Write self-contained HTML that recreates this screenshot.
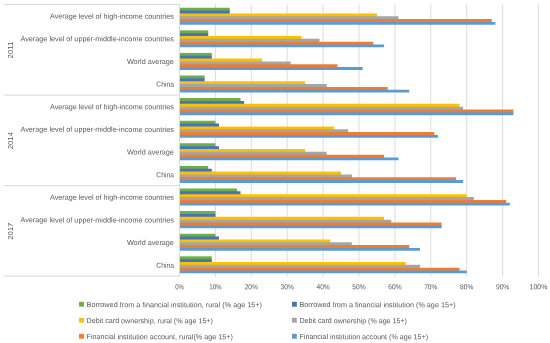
<!DOCTYPE html>
<html lang="en">
<head>
<meta charset="utf-8">
<title>Financial inclusion indicators</title>
<style>
html,body{margin:0;padding:0;background:#fff;}
body{width:550px;height:343px;overflow:hidden;}
svg{display:block;}
text{font-family:"Liberation Sans",sans-serif;font-size:7.35px;fill:#595959;}
</style>
</head>
<body>
<svg width="550" height="343" viewBox="0 0 550 343">
<rect width="550" height="343" fill="#ffffff"/>
<g stroke="#D9D9D9" stroke-width="0.9" fill="none">
<line x1="215.40" y1="4" x2="215.40" y2="276.8"/>
<line x1="251.30" y1="4" x2="251.30" y2="276.8"/>
<line x1="287.20" y1="4" x2="287.20" y2="276.8"/>
<line x1="323.10" y1="4" x2="323.10" y2="276.8"/>
<line x1="359.00" y1="4" x2="359.00" y2="276.8"/>
<line x1="394.90" y1="4" x2="394.90" y2="276.8"/>
<line x1="430.80" y1="4" x2="430.80" y2="276.8"/>
<line x1="466.70" y1="4" x2="466.70" y2="276.8"/>
<line x1="502.60" y1="4" x2="502.60" y2="276.8"/>
<line x1="538.50" y1="4" x2="538.50" y2="276.8"/>
</g>
<g>
<path d="M180.00 7.72H229.76V11.56H180.00Z" fill="#70AD47"/>
<path d="M180.00 10.56H229.76V14.40H180.00Z" fill="#4472C4"/>
<path d="M180.00 13.40H376.95V17.24H180.00Z" fill="#FFC000"/>
<path d="M180.00 16.24H398.49V20.08H180.00Z" fill="#A5A5A5"/>
<path d="M180.00 19.08H491.83V22.92H180.00Z" fill="#ED7D31"/>
<path d="M180.00 21.92H495.42V24.76H180.00Z" fill="#5B9BD5"/>
</g>
<g>
<path d="M180.00 30.32H208.22V34.16H180.00Z" fill="#70AD47"/>
<path d="M180.00 33.16H208.22V37.00H180.00Z" fill="#4472C4"/>
<path d="M180.00 36.00H301.56V39.84H180.00Z" fill="#FFC000"/>
<path d="M180.00 38.84H319.51V42.68H180.00Z" fill="#A5A5A5"/>
<path d="M180.00 41.68H373.36V45.52H180.00Z" fill="#ED7D31"/>
<path d="M180.00 44.52H384.13V47.36H180.00Z" fill="#5B9BD5"/>
</g>
<g>
<path d="M180.00 52.92H211.81V56.76H180.00Z" fill="#70AD47"/>
<path d="M180.00 55.76H211.81V59.60H180.00Z" fill="#4472C4"/>
<path d="M180.00 58.60H262.07V62.44H180.00Z" fill="#FFC000"/>
<path d="M180.00 61.44H290.79V65.28H180.00Z" fill="#A5A5A5"/>
<path d="M180.00 64.28H337.46V68.12H180.00Z" fill="#ED7D31"/>
<path d="M180.00 67.12H362.59V69.96H180.00Z" fill="#5B9BD5"/>
</g>
<g>
<path d="M180.00 75.52H204.63V79.36H180.00Z" fill="#70AD47"/>
<path d="M180.00 78.36H204.63V82.20H180.00Z" fill="#4472C4"/>
<path d="M180.00 81.20H305.15V85.04H180.00Z" fill="#FFC000"/>
<path d="M180.00 84.04H326.69V87.88H180.00Z" fill="#A5A5A5"/>
<path d="M180.00 86.88H387.72V90.72H180.00Z" fill="#ED7D31"/>
<path d="M180.00 89.72H409.26V92.56H180.00Z" fill="#5B9BD5"/>
</g>
<g>
<path d="M180.00 98.12H240.53V101.96H180.00Z" fill="#70AD47"/>
<path d="M180.00 100.96H244.12V104.80H180.00Z" fill="#4472C4"/>
<path d="M180.00 103.80H459.52V107.64H180.00Z" fill="#FFC000"/>
<path d="M180.00 106.64H463.11V110.48H180.00Z" fill="#A5A5A5"/>
<path d="M180.00 109.48H513.37V113.32H180.00Z" fill="#ED7D31"/>
<path d="M180.00 112.32H513.37V115.16H180.00Z" fill="#5B9BD5"/>
</g>
<g>
<path d="M180.00 120.72H215.40V124.56H180.00Z" fill="#70AD47"/>
<path d="M180.00 123.56H218.99V127.40H180.00Z" fill="#4472C4"/>
<path d="M180.00 126.40H333.87V130.24H180.00Z" fill="#FFC000"/>
<path d="M180.00 129.24H348.23V133.08H180.00Z" fill="#A5A5A5"/>
<path d="M180.00 132.08H434.39V135.92H180.00Z" fill="#ED7D31"/>
<path d="M180.00 134.92H437.98V137.76H180.00Z" fill="#5B9BD5"/>
</g>
<g>
<path d="M180.00 143.32H215.40V147.16H180.00Z" fill="#70AD47"/>
<path d="M180.00 146.16H218.99V150.00H180.00Z" fill="#4472C4"/>
<path d="M180.00 149.00H305.15V152.84H180.00Z" fill="#FFC000"/>
<path d="M180.00 151.84H326.69V155.68H180.00Z" fill="#A5A5A5"/>
<path d="M180.00 154.68H384.13V158.52H180.00Z" fill="#ED7D31"/>
<path d="M180.00 157.52H398.49V160.36H180.00Z" fill="#5B9BD5"/>
</g>
<g>
<path d="M180.00 165.92H208.22V169.76H180.00Z" fill="#70AD47"/>
<path d="M180.00 168.76H211.81V172.60H180.00Z" fill="#4472C4"/>
<path d="M180.00 171.60H341.05V175.44H180.00Z" fill="#FFC000"/>
<path d="M180.00 174.44H351.82V178.28H180.00Z" fill="#A5A5A5"/>
<path d="M180.00 177.28H455.93V181.12H180.00Z" fill="#ED7D31"/>
<path d="M180.00 180.12H463.11V182.96H180.00Z" fill="#5B9BD5"/>
</g>
<g>
<path d="M180.00 188.52H236.94V192.36H180.00Z" fill="#70AD47"/>
<path d="M180.00 191.36H240.53V195.20H180.00Z" fill="#4472C4"/>
<path d="M180.00 194.20H466.70V198.04H180.00Z" fill="#FFC000"/>
<path d="M180.00 197.04H473.88V200.88H180.00Z" fill="#A5A5A5"/>
<path d="M180.00 199.88H506.19V203.72H180.00Z" fill="#ED7D31"/>
<path d="M180.00 202.72H509.78V205.56H180.00Z" fill="#5B9BD5"/>
</g>
<g>
<path d="M180.00 211.12H215.40V214.96H180.00Z" fill="#70AD47"/>
<path d="M180.00 213.96H215.40V217.80H180.00Z" fill="#4472C4"/>
<path d="M180.00 216.80H384.13V220.64H180.00Z" fill="#FFC000"/>
<path d="M180.00 219.64H391.31V223.48H180.00Z" fill="#A5A5A5"/>
<path d="M180.00 222.48H441.57V226.32H180.00Z" fill="#ED7D31"/>
<path d="M180.00 225.32H441.57V228.16H180.00Z" fill="#5B9BD5"/>
</g>
<g>
<path d="M180.00 233.72H215.40V237.56H180.00Z" fill="#70AD47"/>
<path d="M180.00 236.56H218.99V240.40H180.00Z" fill="#4472C4"/>
<path d="M180.00 239.40H330.28V243.24H180.00Z" fill="#FFC000"/>
<path d="M180.00 242.24H351.82V246.08H180.00Z" fill="#A5A5A5"/>
<path d="M180.00 245.08H409.26V248.92H180.00Z" fill="#ED7D31"/>
<path d="M180.00 247.92H420.03V250.76H180.00Z" fill="#5B9BD5"/>
</g>
<g>
<path d="M180.00 256.32H211.81V260.16H180.00Z" fill="#70AD47"/>
<path d="M180.00 259.16H211.81V263.00H180.00Z" fill="#4472C4"/>
<path d="M180.00 262.00H405.67V265.84H180.00Z" fill="#FFC000"/>
<path d="M180.00 264.84H420.03V268.68H180.00Z" fill="#A5A5A5"/>
<path d="M180.00 267.68H459.52V271.52H180.00Z" fill="#ED7D31"/>
<path d="M180.00 270.52H466.70V273.36H180.00Z" fill="#5B9BD5"/>
</g>
<g stroke="#D9D9D9" stroke-width="1" fill="none">
<line x1="179.50" y1="4" x2="179.50" y2="276.8"/>
<line x1="3.3" y1="4.40" x2="180.00" y2="4.40"/>
<line x1="3.3" y1="95.15" x2="180.00" y2="95.15"/>
<line x1="3.3" y1="185.65" x2="180.00" y2="185.65"/>
<line x1="3.3" y1="276.10" x2="180.00" y2="276.10"/>
</g>
<g text-anchor="end">
<text transform="translate(173.9 18.72) rotate(0.05)" textLength="123.81" lengthAdjust="spacingAndGlyphs">Average level of high-income countries</text>
<text transform="translate(173.9 41.36) rotate(0.05)" textLength="153.41" lengthAdjust="spacingAndGlyphs">Average level of upper-middle-income countries</text>
<text transform="translate(173.9 64.00) rotate(0.05)" textLength="47.02" lengthAdjust="spacingAndGlyphs">World average</text>
<text transform="translate(173.9 86.64) rotate(0.05)" textLength="17.63" lengthAdjust="spacingAndGlyphs">China</text>
<text transform="translate(173.9 109.28) rotate(0.05)" textLength="123.81" lengthAdjust="spacingAndGlyphs">Average level of high-income countries</text>
<text transform="translate(173.9 131.92) rotate(0.05)" textLength="153.41" lengthAdjust="spacingAndGlyphs">Average level of upper-middle-income countries</text>
<text transform="translate(173.9 154.56) rotate(0.05)" textLength="47.02" lengthAdjust="spacingAndGlyphs">World average</text>
<text transform="translate(173.9 177.20) rotate(0.05)" textLength="17.63" lengthAdjust="spacingAndGlyphs">China</text>
<text transform="translate(173.9 199.84) rotate(0.05)" textLength="123.81" lengthAdjust="spacingAndGlyphs">Average level of high-income countries</text>
<text transform="translate(173.9 222.48) rotate(0.05)" textLength="153.41" lengthAdjust="spacingAndGlyphs">Average level of upper-middle-income countries</text>
<text transform="translate(173.9 245.12) rotate(0.05)" textLength="47.02" lengthAdjust="spacingAndGlyphs">World average</text>
<text transform="translate(173.9 267.76) rotate(0.05)" textLength="17.63" lengthAdjust="spacingAndGlyphs">China</text>
</g>
<text transform="translate(13.3 50.08) rotate(-90)" text-anchor="middle" textLength="16.69" lengthAdjust="spacingAndGlyphs">2011</text>
<text transform="translate(13.3 140.64) rotate(-90)" text-anchor="middle" textLength="17.27" lengthAdjust="spacingAndGlyphs">2014</text>
<text transform="translate(13.3 231.20) rotate(-90)" text-anchor="middle" textLength="17.27" lengthAdjust="spacingAndGlyphs">2017</text>
<g text-anchor="middle">
<text transform="translate(179.50 289.20) rotate(0.05)" textLength="8.75" lengthAdjust="spacingAndGlyphs">0%</text>
<text transform="translate(215.40 289.20) rotate(0.05)" textLength="12.48" lengthAdjust="spacingAndGlyphs">10%</text>
<text transform="translate(251.30 289.20) rotate(0.05)" textLength="13.35" lengthAdjust="spacingAndGlyphs">20%</text>
<text transform="translate(287.20 289.20) rotate(0.05)" textLength="13.35" lengthAdjust="spacingAndGlyphs">30%</text>
<text transform="translate(323.10 289.20) rotate(0.05)" textLength="13.35" lengthAdjust="spacingAndGlyphs">40%</text>
<text transform="translate(359.00 289.20) rotate(0.05)" textLength="13.35" lengthAdjust="spacingAndGlyphs">50%</text>
<text transform="translate(394.90 289.20) rotate(0.05)" textLength="13.35" lengthAdjust="spacingAndGlyphs">60%</text>
<text transform="translate(430.80 289.20) rotate(0.05)" textLength="13.35" lengthAdjust="spacingAndGlyphs">70%</text>
<text transform="translate(466.70 289.20) rotate(0.05)" textLength="13.35" lengthAdjust="spacingAndGlyphs">80%</text>
<text transform="translate(502.60 289.20) rotate(0.05)" textLength="13.35" lengthAdjust="spacingAndGlyphs">90%</text>
<text transform="translate(538.50 289.20) rotate(0.05)" textLength="17.80" lengthAdjust="spacingAndGlyphs">100%</text>
</g>
<rect x="79.10" y="301.80" width="4.8" height="4.9" fill="#70AD47"/>
<text transform="translate(86.60 307.10) rotate(0.05)" textLength="175.44" lengthAdjust="spacingAndGlyphs">Borrowed from a financial institution, rural (% age 15+)</text>
<rect x="292.00" y="301.80" width="4.8" height="4.9" fill="#4472C4"/>
<text transform="translate(299.50 307.10) rotate(0.05)" textLength="156.09" lengthAdjust="spacingAndGlyphs">Borrowed from a financial institution (% age 15+)</text>
<rect x="79.10" y="317.80" width="4.8" height="4.9" fill="#FFC000"/>
<text transform="translate(86.60 323.10) rotate(0.05)" textLength="126.31" lengthAdjust="spacingAndGlyphs">Debit card ownership, rural (% age 15+)</text>
<rect x="292.00" y="317.80" width="4.8" height="4.9" fill="#A5A5A5"/>
<text transform="translate(299.50 323.10) rotate(0.05)" textLength="107.41" lengthAdjust="spacingAndGlyphs">Debit card ownership (% age 15+)</text>
<rect x="79.10" y="333.80" width="4.8" height="4.9" fill="#ED7D31"/>
<text transform="translate(86.60 339.10) rotate(0.05)" textLength="146.19" lengthAdjust="spacingAndGlyphs">Financial institution account, rural(% age 15+)</text>
<rect x="292.00" y="333.80" width="4.8" height="4.9" fill="#5B9BD5"/>
<text transform="translate(299.50 339.10) rotate(0.05)" textLength="128.56" lengthAdjust="spacingAndGlyphs">Financial institution account (% age 15+)</text>
</svg>
</body>
</html>
